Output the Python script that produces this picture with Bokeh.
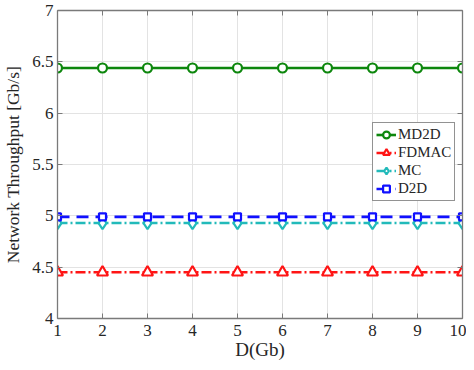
from bokeh.plotting import figure
from bokeh.models import LinearAxis, FixedTicker, CustomJSTickFormatter, Range1d, Legend, LegendItem
from bokeh.embed import file_html
from bokeh.resources import INLINE

x_vals = [1, 2, 3, 4, 5, 6, 7, 8, 9, 10]
md2d = [6.44, 6.44, 6.44, 6.44, 6.44, 6.44, 6.44, 6.44, 6.44, 6.44]
fdmac = [4.45, 4.45, 4.45, 4.45, 4.45, 4.45, 4.45, 4.45, 4.45, 4.45]
mc = [4.93, 4.93, 4.93, 4.93, 4.93, 4.93, 4.93, 4.93, 4.93, 4.93]
d2d = [4.99, 4.99, 4.99, 4.99, 4.99, 4.99, 4.99, 4.99, 4.99, 4.99]
y_ticks = [4, 4.5, 5, 5.5, 6, 6.5, 7]
x_ticks = [1, 2, 3, 4, 5, 6, 7, 8, 9, 10]

FONT = "Liberation Serif"
TXT = "#262626"
AX = "#7a7a7a"

p = figure(width=466, height=362, output_backend="svg", toolbar_location=None,
           x_range=Range1d(1, 10), y_range=Range1d(4, 7),
           min_border_left=56, min_border_right=4, min_border_top=10, min_border_bottom=43,
           x_axis_label="D(Gb)", y_axis_label="Network Throughput [Gb/s]")
p.outline_line_color = None
p.background_fill_color = "white"
p.border_fill_color = "white"

fmt = CustomJSTickFormatter(code="return tick.toString();")
for ax in [p.xaxis[0], p.yaxis[0]]:
    ax.major_label_text_font = FONT
    ax.major_label_text_font_size = "17px"
    ax.major_label_text_color = TXT
    ax.axis_label_text_font = FONT
    ax.axis_label_text_font_style = "normal"
    ax.axis_label_text_color = TXT
    ax.axis_line_color = AX
    ax.axis_line_width = 1.3
    ax.major_tick_line_color = AX
    ax.major_tick_in = 5
    ax.major_tick_out = 0
    ax.minor_tick_line_color = None
    ax.formatter = fmt
p.xaxis[0].axis_label_text_font_size = "19px"
p.yaxis[0].axis_label_text_font_size = "17.5px"
p.xaxis[0].ticker = FixedTicker(ticks=x_ticks)
p.yaxis[0].ticker = FixedTicker(ticks=y_ticks)
p.xaxis[0].major_label_standoff = 6
p.xaxis[0].axis_label_standoff = 0
p.yaxis[0].major_label_standoff = 4
p.yaxis[0].axis_label_standoff = 6

blank = CustomJSTickFormatter(code="return '';")
top = LinearAxis(ticker=FixedTicker(ticks=x_ticks), formatter=blank,
                 axis_line_color=AX, axis_line_width=1.3, major_tick_line_color=AX,
                 major_tick_in=5, major_tick_out=0, minor_tick_line_color=None,
                 major_label_standoff=0)
right = LinearAxis(ticker=FixedTicker(ticks=y_ticks), formatter=blank,
                   axis_line_color=AX, axis_line_width=1.3, major_tick_line_color=AX,
                   major_tick_in=5, major_tick_out=0, minor_tick_line_color=None,
                   major_label_standoff=0)
p.add_layout(top, "above")
p.add_layout(right, "right")

p.xgrid.ticker = FixedTicker(ticks=x_ticks)
p.ygrid.ticker = FixedTicker(ticks=y_ticks)
p.xgrid.grid_line_color = "#e3e3e3"
p.ygrid.grid_line_color = "#e3e3e3"

GREEN = "#0d870d"
RED = "#ff1515"
CYAN = "#22baba"
BLUE = "#1010ff"
LW = 2.6

l1 = p.line(x_vals, md2d, line_color=GREEN, line_width=LW)
s1 = p.scatter(x_vals, md2d, marker="circle", size=9, line_color=GREEN, line_width=2.2, fill_color="white")
l2 = p.line(x_vals, fdmac, line_color=RED, line_width=LW, line_dash="10 3 2 3")
s2 = p.scatter(x_vals, fdmac, marker="triangle", size=11, line_color=RED, line_width=2.2, fill_color="white")
l3 = p.line(x_vals, mc, line_color=CYAN, line_width=LW, line_dash="10 3 2 3")
s3 = p.scatter(x_vals, mc, marker="diamond", size=12, line_color=CYAN, line_width=2.2, fill_color="white")
l4 = p.line(x_vals, d2d, line_color=BLUE, line_width=LW, line_dash="12 7")
s4 = p.scatter(x_vals, d2d, marker="square", size=7, line_color=BLUE, line_width=2.2, fill_color="white")

legend = Legend(items=[
    LegendItem(label="MD2D", renderers=[l1, s1]),
    LegendItem(label="FDMAC", renderers=[l2, s2]),
    LegendItem(label="MC", renderers=[l3, s3]),
    LegendItem(label="D2D", renderers=[l4, s4]),
], location=(315, 117))
legend.label_text_font = FONT
legend.label_text_font_size = "15px"
legend.label_text_color = TXT
legend.label_height = 17
legend.label_standoff = 2
legend.glyph_width = 20
legend.glyph_height = 17
legend.spacing = 1
legend.padding = 3
legend.margin = 0
legend.border_line_color = "#262626"
legend.border_line_width = 1
legend.background_fill_alpha = 1
p.add_layout(legend, "center")

open("out.html", "w").write(file_html(p, INLINE))
